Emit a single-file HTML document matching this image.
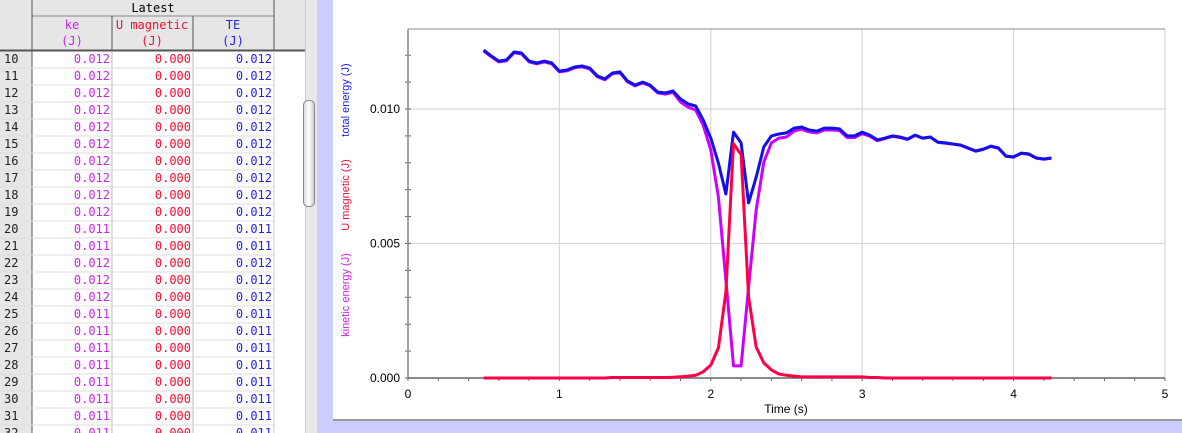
<!DOCTYPE html>
<html><head><meta charset="utf-8">
<style>
body{margin:0;width:1182px;height:433px;overflow:hidden;background:#ccccff;font-family:"Liberation Sans",sans-serif;position:relative}
#table{position:absolute;left:0;top:0;width:305px;height:433px;background:#fff;overflow:hidden}
.mono{font-family:"DejaVu Sans Mono","Liberation Mono",monospace;font-size:12px}
#gutter{position:absolute;left:305px;top:0;width:11px;height:433px;background:#e8e8e8;border-left:1px solid #ccc}
#chartpanel{position:absolute;left:333px;top:0;width:849px;height:419px;background:#fff;border-bottom:2px solid #999}
</style></head><body>
<div id="table">
<svg width="305" height="433" id="tsvg"></svg>
</div>
<div id="gutter">
<div style="position:absolute;left:-3px;top:100px;width:10px;height:105px;border:1px solid #888;border-radius:5px;background:linear-gradient(90deg,#ddd,#fff,#ccc)"></div>
</div>
<div id="chartpanel"></div>
<svg id="chart" width="1182" height="433" style="position:absolute;left:0;top:0"></svg>
<script>
const rows=[10,11,12,13,14,15,16,17,18,19,20,21,22,23,24,25,26,27,28,29,30,31,32];
const keCol=["0.012","0.012","0.012","0.012","0.012","0.012","0.012","0.012","0.012","0.012","0.011","0.011","0.012","0.012","0.012","0.011","0.011","0.011","0.011","0.011","0.011","0.011","0.011"];
const uCol=rows.map(()=> "0.000");
const teCol=keCol.slice();
const times=[];for(let i=0;i<76;i++)times.push(+(0.5+i*0.05).toFixed(2));
const te=[.01219,.01197,.01178,.01182,.01212,.01208,.01178,.01171,.01178,.01171,
.01141,.01145,.01156,.0116,.01152,.01123,.01112,.01134,.01138,.01104,
.01089,.011,.01089,.01063,.0106,.01067,.01037,.01019,.01011,.00959,
.00892,.00799,.00684,.00914,.00874,.00651,.00747,.00859,
.009,.00907,.00911,.00929,.00933,.00922,.00918,.00929,.00929,.00926,.009,.009,.00914,.00903,.00885,.00892,.009,.00896,
.00888,.00903,.00892,.00896,.00877,.00874,.0087,.00866,.00855,.00844,.00851,.00862,.00855,.00825,.00822,.00836,.00833,.00818,.00814,.00818];
const ke=[.01216,.01194,.01175,.01179,.01209,.01205,.01175,.01168,.01175,.01168,
.01138,.01142,.01153,.01157,.01149,.0112,.01109,.01131,.01135,.01101,
.01086,.01097,.01086,.0106,.01055,.01062,.01026,.01007,.00996,.0094,
.00848,.00673,.00364,.00045,.00045,.00338,.00625,.00803,
.00874,.00892,.00896,.00918,.00925,.00915,.00911,.00922,.00922,.0092,.00894,.00894,.00908,.00899,.00882,.0089,.00898,.00894,
.00887,.00902,.00891,.00895,.00876,.00873,.00869,.00865,.00854,.00843,.0085,.00861,.00854,.00824,.00821,.00835,.00832,.00817,.00813,.00817];
const um=[0,0,0,0,0,0,0,0,0,0, 0,0,0,0,0,0,0,.00002,.00002,.00002,
.00002,.00002,.00002,.00002,.00002,.00003,.00005,.00007,.0001,.00023,
.00048,.00112,.0032,.00871,.0083,.00301,.00115,.00056,
.0003,.00015,.0001,.00007,.00004,.00004,.00004,.00004,.00004,.00004,.00004,.00004,.00004,.00002,.00002,0,0,0,
0,0,0,0,0,0,0,0,0,0,0,0,0,0,0,0,0,0,0,0];
const xTicks=[0,1,2,3,4,5];
const yTicks=[0,0.005,0.010];
const NS="http://www.w3.org/2000/svg";
function mk(p,tag,a,txt){const e=document.createElementNS(NS,tag);for(const k in a)e.setAttribute(k,a[k]);if(txt!=null)e.textContent=txt;p.appendChild(e);return e;}
// table
const T=document.getElementById('tsvg');
let hb=mk(T,'rect',{x:0,y:0,width:305,height:51,fill:'#e6e6e6'});


mk(T,'rect',{x:0,y:51,width:32,height:382,fill:'#e6e6e6'});
mk(T,'line',{x1:32,y1:16,x2:274,y2:16,stroke:'#888'});
mk(T,'line',{x1:32,y1:0,x2:32,y2:433,stroke:'#555'});
mk(T,'line',{x1:274,y1:0,x2:274,y2:51,stroke:'#555'});
mk(T,'line',{x1:0,y1:50.5,x2:305,y2:50.5,stroke:'#555','stroke-width':2});
[112,193].forEach(x=>mk(T,'line',{x1:x,y1:16,x2:x,y2:433,stroke:x?'#bbb':'#555'}));
mk(T,'line',{x1:112,y1:16,x2:112,y2:51,stroke:'#555'});mk(T,'line',{x1:193,y1:16,x2:193,y2:51,stroke:'#555'});
mk(T,'line',{x1:274,y1:51,x2:274,y2:433,stroke:'#ccc'});
let lt=mk(T,'text',{x:153,y:12,'text-anchor':'middle',class:'mono',fill:'#000'},'Latest');


const heads=[['ke',72,'#cc22ee'],['U magnetic',152,'#ee1133'],['TE',233,'#2222ee']];
heads.forEach(h=>{let t=mk(T,'text',{x:h[1],y:29,'text-anchor':'middle',class:'mono',fill:h[2]},h[0]);


mk(T,'text',{x:h[1],y:45,'text-anchor':'middle',class:'mono',fill:h[2]},'(J)');});
rows.forEach((r,i)=>{const y=51+i*17;
mk(T,'line',{x1:0,y1:y+17,x2:274,y2:y+17,stroke:'#ddd'});
let n=mk(T,'text',{x:4,y:y+12,class:'mono',fill:'#222'},String(r));


let a=mk(T,'text',{x:110,y:y+12,'text-anchor':'end',class:'mono',fill:'#cc22ee'},keCol[i]);


let b=mk(T,'text',{x:191,y:y+12,'text-anchor':'end',class:'mono',fill:'#ee1133'},uCol[i]);


let c=mk(T,'text',{x:272,y:y+12,'text-anchor':'end',class:'mono',fill:'#2222ee'},teCol[i]);


});
// chart
const C=document.getElementById('chart');
const X0=408,X1=1165,Y0=378,Y1=29;
const sx=v=>X0+v*(X1-X0)/5;
const sy=v=>Y0-v*26.9/0.001;
xTicks.forEach(t=>{mk(C,'line',{x1:sx(t),y1:Y1,x2:sx(t),y2:Y0,stroke:'#d8d8d8','stroke-width':1.2});
let l=mk(C,'text',{x:sx(t),y:398,'text-anchor':'middle','font-size':12,fill:'#000'},String(t));

});
for(let t=0;t<=5.001;t+=0.2)mk(C,'line',{x1:sx(t),y1:Y0,x2:sx(t),y2:Y0+3,stroke:'#666'});
yTicks.forEach(t=>{mk(C,'line',{x1:X0,y1:sy(t),x2:X1,y2:sy(t),stroke:'#d8d8d8','stroke-width':1.2});
let l=mk(C,'text',{x:X0-8,y:sy(t)+4,'text-anchor':'end','font-size':12,fill:'#000'},t.toFixed(3));

});
for(let t=0;t<=0.0125;t+=0.001)mk(C,'line',{x1:X0-3,y1:sy(t),x2:X0+3,y2:sy(t),stroke:'#666'});
mk(C,'line',{x1:X0,y1:Y1,x2:X1,y2:Y1,stroke:'#888'});
mk(C,'line',{x1:X0,y1:Y1,x2:X0,y2:Y0,stroke:'#888','stroke-width':1.5});
mk(C,'line',{x1:X0,y1:Y0,x2:X1,y2:Y0,stroke:'#666','stroke-width':1.5});
let xt=mk(C,'text',{x:786,y:413,'text-anchor':'middle','font-size':12},'Time (s)');


[['kinetic energy (J)',295,'#cc22ee','y-axis-title-ke'],['U magnetic (J)',195,'#ee1133','y-axis-title-u'],['total energy (J)',100,'#2222ee','y-axis-title-te']].forEach(a=>{
let t=mk(C,'text',{x:0,y:0,transform:`translate(349,${a[1]}) rotate(-90)`,'text-anchor':'middle','font-size':11,fill:a[2]},a[0]);

});
function series(vals,color,name){const d=vals.map((v,i)=>(i?'L':'M')+sx(times[i]).toFixed(1)+','+sy(v).toFixed(1)).join('');
const p=mk(C,'path',{d:d,fill:'none',stroke:color,'stroke-width':3,'stroke-linejoin':'round'});

}
series(ke,'#cc00ff','kinetic-energy-line');
series(te,'#1111e6','total-energy-line');
series(um,'#ff0044','u-magnetic-line');
</script>
</body></html>
